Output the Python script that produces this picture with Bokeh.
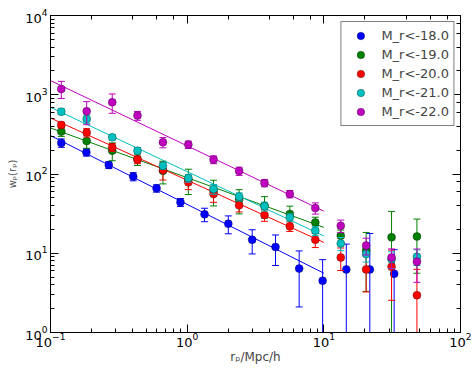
from bokeh.plotting import figure
from bokeh.models import LogAxis, Legend, LegendItem
from bokeh.embed import file_html
from bokeh.resources import INLINE

# ---- data ----
labels = ["M_r<-18.0", "M_r<-19.0", "M_r<-20.0", "M_r<-21.0", "M_r<-22.0"]
colors = ["#0000ff", "#008000", "#ff0000", "#00bfbf", "#bf00bf"]

r_blue = [0.120, 0.183, 0.267, 0.403, 0.597, 0.893, 1.34, 2.0, 2.99, 4.43, 6.6, 9.8, 14.6, 21.7, 32.7]
r_bins = [0.120, 0.184, 0.283, 0.433, 0.665, 1.02, 1.56, 2.40, 3.68, 5.64, 8.66, 13.3, 20.4, 31.3, 48.0]

w_18 = [247, 188, 130, 93, 66, 44, 31, 23.6, 14.8, 12.0, 6.4, 4.5, 6.25, 6.25, 5.5]
e_18 = [30, 20, 13, 11, 7, 5, 6, 6, 5, 5, 4.3, 3.8, 6.8, 11.5, 5.6]

w_19 = [343, 261, 197, 153, 110, 85, 61.5, 47.4, 39.8, 31.3, 24.5, 16.6, 10.8, 15.9, 16.3]
e_19 = [45, 50, 50, 25, 35, 30, 22, 16, 12, 8, 4, 3, 7.5, 17.8, 10.7]

w_20 = [416, 333, 217, 152, 112, 78.5, 55.9, 40.2, 30.3, 21.8, 14.8, 8.85, 6.25, 6.75, 2.96]
e_20 = [35, 40, 25, 17, 28, 15, 12, 7, 5, 3, 3, 2.8, 3.0, 4.2, 3.3]

w_21 = [612, 495, 290, 197, 127, 88.9, 64.7, 51.8, 39.1, 28.4, 19.2, 13.3, 9.75, 8.43, 9.03]
e_21 = [50, 60, 20, 18, 12, 10, 9, 6, 5, 3, 2.5, 2.5, 2, 2, 2]

w_22 = [1186, 619, 803, 546, 251, 235, 152, 109, 76.9, 55.9, 37.2, 22.2, 12.5, 8.85, 7.8]
e_22 = [290, 200, 220, 70, 37, 25, 17, 13, 8, 6, 6, 4, 3, 2.5, 3.5]

fit_r = [0.1, 10.0]
fit_18 = [305, 5.6]
fit_19 = [381, 21.2]
fit_20 = [509, 13.7]
fit_21 = [695, 16.5]
fit_22 = [1510, 34]

xs_list = [r_blue, r_bins, r_bins, r_bins, r_bins]
ws_list = [w_18, w_19, w_20, w_21, w_22]
es_list = [e_18, e_19, e_20, e_21, e_22]
fits = [fit_18, fit_19, fit_20, fit_21, fit_22]

FONT = "DejaVu Sans"
CAP = 10 ** (3.5 / 137.0)   # half cap width as a log factor (~3.5 px)

p = figure(frame_width=410, frame_height=317, x_axis_type="log", y_axis_type="log",
           x_range=(0.1, 100), y_range=(1, 1e4),
           output_backend="svg", toolbar_location=None,
           min_border_left=50, min_border_right=14, min_border_top=15, min_border_bottom=44)
p.background_fill_color = "white"
p.border_fill_color = "white"
p.outline_line_color = "black"
p.outline_line_width = 1
p.xgrid.visible = False
p.ygrid.visible = False

for ax in (p.xaxis[0], p.yaxis[0]):
    ax.major_tick_in = 8
    ax.major_tick_out = 0
    ax.minor_tick_in = 4
    ax.minor_tick_out = 0
    ax.major_label_text_font = FONT
    ax.major_label_text_font_size = "13px"
    ax.major_label_text_color = "black"
    ax.axis_line_color = "black"

p.xaxis.axis_label = "rₚ/Mpc/h"
p.xaxis.axis_label_text_font = FONT
p.xaxis.axis_label_text_font_size = "12px"
p.xaxis.axis_label_text_font_style = "normal"
p.xaxis.axis_label_standoff = 0
p.xaxis.major_label_standoff = 0

p.yaxis.axis_label = "wₚ(rₚ)"
p.yaxis.axis_label_text_font = FONT
p.yaxis.axis_label_text_font_size = "10px"
p.yaxis.axis_label_text_font_style = "normal"
p.yaxis.axis_label_text_color = "#555555"
p.yaxis.axis_label_standoff = 4
p.yaxis.major_label_standoff = 3

for side in ("above", "right"):
    ax = LogAxis()
    ax.major_tick_in = 8
    ax.major_tick_out = 0
    ax.minor_tick_in = 4
    ax.minor_tick_out = 0
    ax.major_label_text_font_size = "0px"
    ax.major_label_text_color = None
    ax.axis_line_color = "black"
    p.add_layout(ax, side)

items = []
for lab, col, xs, ws, es, fit in zip(labels, colors, xs_list, ws_list, es_list, fits):
    lo = [max(w - e, 1e-3) for w, e in zip(ws, es)]
    hi = [w + e for w, e in zip(ws, es)]
    p.segment(x0=xs, y0=lo, x1=xs, y1=hi, line_color=col, line_width=1)
    cap_x = [x for x, l in zip(xs, lo) if l >= 1] + list(xs)
    cap_y = [l for l in lo if l >= 1] + hi
    p.segment(x0=[x / CAP for x in cap_x], y0=cap_y, x1=[x * CAP for x in cap_x], y1=cap_y,
              line_color=col, line_width=1)
    p.line(x=fit_r, y=fit, line_color=col, line_width=1)
    r = p.scatter(x=xs, y=ws, marker="circle", size=8, fill_color=col,
                  line_color="black", line_width=0.5, line_alpha=0.6)
    items.append(LegendItem(label=lab, renderers=[r]))

legend = Legend(items=items, location="top_right")
legend.label_text_font = FONT
legend.label_text_font_size = "13px"
legend.label_height = 19
legend.glyph_height = 19
legend.glyph_width = 30
legend.spacing = 0
legend.padding = 4
legend.margin = 6
legend.label_standoff = 6
legend.border_line_color = "black"
legend.border_line_width = 1
legend.background_fill_color = "white"
legend.background_fill_alpha = 1
p.add_layout(legend)

open("out.html", "w").write(file_html(p, INLINE))
